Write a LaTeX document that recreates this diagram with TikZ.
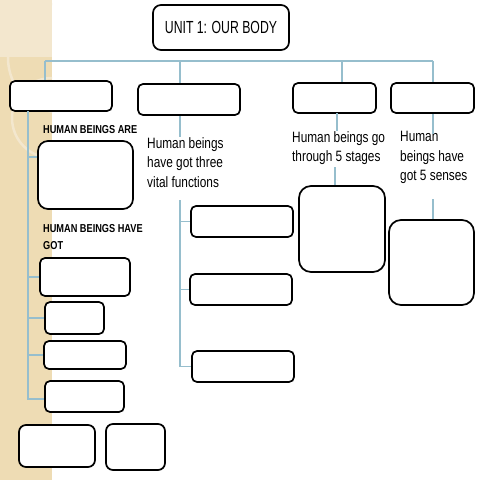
\documentclass[tikz,border=0pt]{standalone}
\usepackage{fontspec}
\setmainfont{Liberation Sans}
\newfontfamily\titlefont[FakeStretch=0.7]{Liberation Sans}
\newfontfamily\bodyfont[FakeStretch=0.79]{Liberation Sans}
\newfontfamily\labelfont[FakeStretch=0.8]{Liberation Sans}
\definecolor{strip}{RGB}{238,220,180}
\definecolor{stripdeco}{RGB}{243,231,206}
\definecolor{wire}{RGB}{150,190,205}
\tikzset{
	box/.style={draw,line width=1.7pt,rounded corners=5pt,inner sep=0pt,fill=white},
	bigbox/.style={box,rounded corners=12pt},
	wired/.style={draw=wire,line width=1.1pt},
	said/.style={inner sep=0pt,align=left,font=\bodyfont\fontsize{15}{19.5}\selectfont},
	caps/.style={inner sep=0pt,align=left,font=\labelfont\bfseries\fontsize{11.5}{17}\selectfont}
}
\begin{document}
\begin{tikzpicture}[x=1pt,y=-1pt]
		\useasboundingbox (0,0) rectangle (480,480);
		% background strip
		\fill[color=strip] (0,0) rectangle (52,480);
		\begin{scope}
			\clip (0,0) rectangle (52,480);
			\fill[color=stripdeco] (0,0) rectangle (52,57);
			\draw[stripdeco,line width=2.5pt] (63,58) circle (55);
			\draw[stripdeco,line width=2.5pt] (52,118) circle (40);
		\end{scope}
		% boxes
		\node[box,rounded corners=8pt,minimum width=136,minimum height=45] (title) at (221,27.5) {\titlefont\fontsize{17.5}{20}\selectfont UNIT 1: OUR BODY};
		\node[box,minimum width=102,minimum height=30] (top1) at (61,96) {};
		\node[box,minimum width=102,minimum height=31] (top2) at (189,99.5) {};
		\node[box,minimum width=83,minimum height=30] (top3) at (334.5,98) {};
		\node[box,minimum width=83,minimum height=30] (top4) at (432.5,98) {};
		\node[bigbox,rounded corners=10pt,minimum width=95,minimum height=68] (are) at (85.5,175) {};
		\node[box,minimum width=90,minimum height=38] (got1) at (85,277) {};
		\node[box,minimum width=59,minimum height=32] (got2) at (74.5,318) {};
		\node[box,minimum width=82,minimum height=28] (got3) at (85,355) {};
		\node[box,minimum width=79,minimum height=31] (got4) at (84.5,396.5) {};
		\node[box,rounded corners=7pt,minimum width=76,minimum height=42] (lowL) at (57,446) {};
		\node[box,rounded corners=7pt,minimum width=59,minimum height=46] (lowR) at (135.5,447) {};
		\node[box,minimum width=102,minimum height=31] (vitA) at (242,221.5) {};
		\node[box,minimum width=102,minimum height=31] (vitB) at (241,289.5) {};
		\node[box,minimum width=102,minimum height=31] (vitC) at (243,366.5) {};
		\node[bigbox,minimum width=86,minimum height=86] (stages) at (342,229) {};
		\node[bigbox,minimum width=85,minimum height=85] (senses) at (431.5,262.5) {};
		% texts
		\node[caps,anchor=west] (areT) at (43,130) {HUMAN BEINGS ARE};
		\node[caps,anchor=north west] (gotT) at (43,224) {HUMAN BEINGS HAVE\\GOT};
		\node[said,anchor=north west] (vitT) at (147,137) {Human beings\\have got three\\vital functions};
		\node[said,anchor=north west] (stagesT) at (292,131) {Human beings go\\through 5 stages};
		\node[said,anchor=north west] (sensesT) at (400,131) {Human\\beings have\\got 5 senses};
		% connectors
		\coordinate (bus1) at (45,61);
		\coordinate (bus2) at (180,61);
		\coordinate (bus3) at (342,61);
		\coordinate (bus4) at (433,61);
		\draw[wired] (bus1) -- (bus4);
		\draw[wired] (bus1) -- (bus1 |- top1.north);
		\draw[wired] (bus2) -- (bus2 |- top2.north);
		\draw[wired] (bus3) -- (bus3 |- top3.north);
		\draw[wired] (bus4) -- (bus4 |- top4.north);
		% left column
		\coordinate (leftTop) at (28,111);
		\coordinate (leftEnd) at (28,399);
		\coordinate (areTick) at ([yshift=18pt]are.west);
		\draw[wired] (leftTop) -- (leftEnd) -- (leftEnd -| got4.west);
		\draw[wired] (leftTop |- areTick) -- (areTick);
		\foreach \b in {got1,got2,got3}
		\draw[wired] (leftTop |- \b.west) -- (\b.west);
		% vital functions
		\coordinate (vitTop) at (180,200);
		\draw[wired] (bus2 |- top2.south) -- (bus2 |- vitT.north);
		\draw[wired] (vitTop) |- (vitC.west);
		\draw[wired] (vitTop |- vitA.west) -- (vitA.west);
		\draw[wired] (vitTop |- vitB.west) -- (vitB.west);
		% stages and senses
		\coordinate (stagesUp) at (337,113);
		\coordinate (stagesLow) at (335,167);
		\coordinate (sensesLow) at (433,199);
		\draw[wired] (stagesUp) -- (stagesUp |- stagesT.north);
		\draw[wired] (stagesLow) -- (stagesLow |- stages.north);
		\draw[wired] (bus4 |- top4.south) -- ++(0,20);
		\draw[wired] (sensesLow) -- (sensesLow |- senses.north);
	\end{tikzpicture}
\end{document}
